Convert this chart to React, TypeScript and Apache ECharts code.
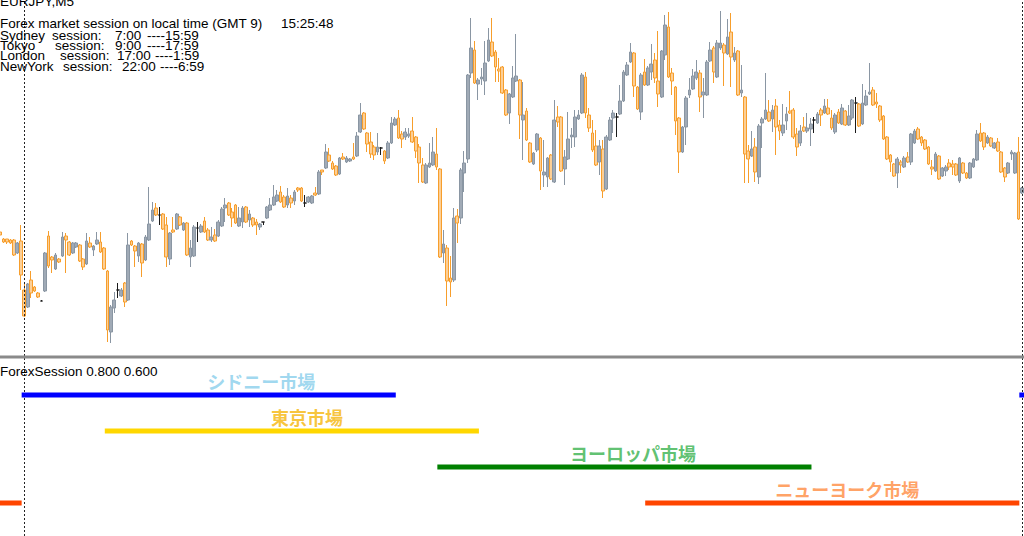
import { useEffect, useRef } from "react";
import * as echarts from "echarts";

// Candle values: height in points above the lower panel divider (EURJPY, M5)
const openP = [125,118,118,117,117,104,116,67,50,77,70,64,56,66,121,100,88,98,101,121,115,104,110,112,98,93,114,107,113,115,109,86,25,49,67,61,74,57,116,111,101,113,97,117,136,149,142,143,132,98,127,128,140,127,134,100,101,129,125,136,127,117,122,121,131,149,154,145,152,131,135,150,137,139,135,130,135,139,147,152,156,165,160,152,159,156,169,169,154,155,154,164,163,187,189,202,194,191,183,200,195,196,200,201,225,244,224,215,210,205,209,206,199,214,232,239,223,220,221,226,220,210,192,174,190,192,203,188,104,109,79,77,141,139,184,198,284,307,273,278,276,296,315,305,288,290,267,244,260,276,277,237,246,214,193,207,219,182,180,202,175,240,240,188,198,220,220,238,244,280,242,224,211,195,208,168,217,239,240,243,256,282,295,304,270,245,285,272,285,297,276,260,302,330,284,270,239,205,230,262,268,279,284,262,262,296,309,280,309,312,303,325,297,306,264,260,206,201,210,180,234,238,245,238,251,232,224,236,246,247,223,214,230,226,228,237,234,247,244,249,239,225,245,233,246,232,239,254,253,233,252,263,267,255,251,241,220,202,193,184,195,190,200,195,214,228,220,217,210,190,186,201,181,186,194,193,193,176,194,184,179,190,197,224,224,214,219,209,215,205,189,184,203,184,205,164];
const closeP = [122,115,115,114,102,114,82,41,73,64,66,60,56,104,91,97,102,95,120,117,102,114,114,96,90,116,110,111,117,105,88,27,50,57,67,67,55,112,112,106,114,94,120,133,147,142,142,128,100,124,125,143,132,134,102,109,130,129,131,125,117,120,116,135,148,152,142,139,134,139,149,135,143,132,132,133,135,150,152,160,162,155,150,161,154,165,167,156,154,160,161,162,185,185,205,196,188,182,199,198,199,198,198,221,242,228,213,203,202,210,209,196,214,234,238,219,218,225,223,215,206,194,175,192,194,205,190,100,113,76,75,139,134,187,194,282,309,274,277,280,294,317,301,290,286,264,242,263,279,281,242,242,217,195,204,223,186,185,199,178,237,235,186,200,218,222,240,242,282,244,229,207,192,211,166,220,237,244,240,256,285,292,305,271,248,282,272,289,293,279,263,306,332,280,276,236,205,230,259,267,281,285,260,265,295,307,285,314,314,304,320,300,304,262,267,203,198,208,185,231,238,247,236,247,230,226,232,243,244,220,210,226,226,229,233,237,243,242,251,243,229,242,234,249,232,241,257,254,231,254,261,265,252,253,237,218,198,195,181,198,192,199,195,223,226,218,214,208,193,188,203,178,189,190,190,190,182,199,184,179,194,198,223,216,210,220,211,214,206,185,180,194,205,204,138,169];
const lowP = [120,114,113,113,101,103,67,40,49,59,65,59,56,65,89,84,87,94,100,84,101,103,109,95,87,92,109,101,112,104,87,15,14,44,59,60,50,56,111,90,95,80,96,116,135,141,132,127,90,92,124,127,131,126,101,90,100,115,124,124,116,115,115,120,130,135,141,130,133,130,129,134,130,130,122,127,132,138,146,151,155,154,149,149,149,152,165,155,150,154,153,161,162,182,188,195,187,181,182,197,194,195,197,200,224,227,205,199,197,202,202,193,198,213,231,218,209,217,219,214,199,174,174,173,189,191,187,99,94,51,60,75,114,133,165,194,279,273,257,272,262,295,300,275,275,263,241,233,259,275,218,197,216,194,192,205,167,170,170,177,174,230,185,172,197,209,210,237,243,239,225,205,191,182,159,167,216,224,220,242,255,281,294,260,247,237,271,271,277,274,250,259,297,279,262,222,184,204,212,259,267,277,245,239,261,295,274,279,307,271,302,270,295,261,260,174,174,200,175,173,209,237,235,225,202,217,221,227,243,218,201,211,225,224,211,224,233,231,243,242,227,223,233,232,231,231,237,224,230,232,251,262,251,249,235,217,197,185,180,169,184,189,194,192,213,217,211,207,192,182,185,177,180,181,187,182,181,174,183,178,178,189,196,215,207,213,210,208,205,184,175,183,197,183,137,163];
const highP = [128,119,118,118,118,115,132,74,74,86,71,65,57,105,126,101,104,99,125,124,116,115,115,113,99,124,120,112,125,125,110,87,52,65,74,69,75,124,117,112,115,114,122,170,155,154,150,144,140,125,140,144,141,135,135,117,132,135,133,140,129,130,128,137,150,159,155,149,153,150,151,151,147,140,138,134,135,151,159,172,167,171,162,169,162,167,170,170,162,161,162,170,187,187,213,209,196,192,200,204,201,199,214,225,254,245,225,225,212,224,210,207,216,240,240,247,226,229,229,240,221,213,199,194,214,220,229,189,127,112,101,149,148,189,206,283,339,316,279,289,316,329,339,307,299,291,268,264,291,323,278,275,249,215,205,224,220,217,200,203,257,251,241,207,245,229,247,247,284,285,249,237,227,217,217,222,240,247,244,272,287,295,314,305,271,284,298,291,313,304,326,307,342,345,289,271,240,231,261,279,288,297,287,279,297,315,311,317,346,314,338,344,310,307,292,261,212,226,219,233,240,284,257,252,258,237,253,250,266,249,229,232,240,244,239,240,245,249,258,258,247,244,248,253,247,252,258,260,254,273,267,294,270,264,252,242,221,203,194,200,197,201,205,224,228,230,221,218,211,197,205,202,190,192,198,197,194,200,195,185,195,199,227,234,225,222,220,215,219,206,190,195,207,205,220,170];

// Day separators (bar index of 07:00 local time)
const daySeparators = [7, 295];

// Sessions (local time GMT+9)
const sessionNames = ["シドニー市場", "東京市場", "ヨーロッパ市場", "ニューヨーク市場"];
const sessionStartHour = [7, 9, 17, 22];
const sessionLengthHours = 9;
const sessionLineColors = ["#0000ff", "#ffd700", "#008000", "#ff4500"];
const sessionLabelColors = ["#87ceeb", "#f5b60a", "#37b24d", "#ff8a3d"];
const sessionLabelAt = [76.2, 89.4, 183.5, 245.3];

const infoTitle = "Forex market session on local time (GMT 9)";
const infoClock = "15:25:48";
const infoRows = [
  ["Sydney", "session:", "7:00", "----15:59"],
  ["Tokyo", "session:", "9:00", "----17:59"],
  ["London", "session:", "17:00", "----1:59"],
  ["NewYork", "session:", "22:00", "----6:59"],
];

const N = openP.length;
const BARS_PER_HOUR = 12;
const DAY_START_HOUR = 7;
const DAY_START_INDEX = daySeparators[0];

function hourToIndex(h: number) {
  return DAY_START_INDEX + (h - DAY_START_HOUR) * BARS_PER_HOUR;
}

const categories: string[] = [];
for (let i = 0; i < N; i++) {
  const m = ((DAY_START_HOUR * 60 + (i - DAY_START_INDEX) * 5) % 1440 + 1440) % 1440;
  categories.push(String(Math.floor(m / 60)).padStart(2, "0") + ":" + String(m % 60).padStart(2, "0"));
}

export default function App() {
  const ref = useRef<HTMLDivElement>(null);
  useEffect(() => {
    if (!ref.current) return;
    const chart = echarts.init(ref.current, undefined, { renderer: "svg" });
    const candleData = openP.map((o, i) => [o, closeP[i], lowP[i], highP[i]]);

    const font = '"Liberation Sans", Arial, sans-serif';
    const fs = 13.5;
    const graphics: any[] = [];
    graphics.push({ type: "rect", shape: { x: 0, y: 355.5, width: 1024, height: 3 }, style: { fill: "#8a8a8a" }, z: 10 });
    graphics.push({ type: "text", x: 0, y: 1, style: { text: "EURJPY,M5", fontSize: fs, fontFamily: font, fill: "#000", verticalAlign: "middle" }, z: 20 });
    graphics.push({ type: "text", x: 0, y: 23.5, style: { text: infoTitle, fontSize: fs, fontFamily: font, fill: "#000", verticalAlign: "middle" }, z: 20 });
    graphics.push({ type: "text", x: 281, y: 23.5, style: { text: infoClock, fontSize: fs, fontFamily: font, fill: "#000", verticalAlign: "middle" }, z: 20 });
    const rowY = [35, 45, 55.5, 66];
    const colX = [
      [0, 52, 115, 147],
      [0, 55, 115, 147],
      [0, 60, 117, 155],
      [0, 63, 122, 160],
    ];
    infoRows.forEach((row, r) => {
      row.forEach((t, c) => {
        graphics.push({ type: "text", x: colX[r][c], y: rowY[r], style: { text: t, fontSize: fs, fontFamily: font, fill: "#000", verticalAlign: "middle" }, z: 20 });
      });
    });
    graphics.push({ type: "text", x: 0, y: 371, style: { text: "ForexSession 0.800 0.600", fontSize: fs, fontFamily: font, fill: "#000", verticalAlign: "middle" }, z: 20 });

    const sessionSeries: any[] = [];
    sessionNames.forEach((name, k) => {
      [-1, 0, 1].forEach((d) => {
        const s = hourToIndex(sessionStartHour[k] + 24 * d);
        const e = s + sessionLengthHours * BARS_PER_HOUR;
        sessionSeries.push({
          type: "line",
          xAxisIndex: 1,
          yAxisIndex: 1,
          data: [[s, k + 1], [e, k + 1]],
          showSymbol: false,
          symbol: "none",
          clip: true,
          lineStyle: { color: sessionLineColors[k], width: 5, cap: "butt" },
          silent: true,
          z: 5,
        });
      });
      sessionSeries.push({
        type: "scatter",
        xAxisIndex: 1,
        yAxisIndex: 1,
        data: [[sessionLabelAt[k], k + 1]],
        symbolSize: 0,
        silent: true,
        label: {
          show: true,
          position: "top",
          distance: 5,
          formatter: name,
          color: sessionLabelColors[k],
          fontSize: 18,
          fontWeight: "bold",
          fontFamily: '"Noto Sans CJK JP", sans-serif',
        },
        z: 6,
      });
    });

    chart.setOption({
      animation: false,
      backgroundColor: "#ffffff",
      graphic: graphics,
      grid: [
        { left: 0, right: 2, top: 0, bottom: 0 },
        { left: 0, right: 0, top: 377, height: 144 },
      ],
      xAxis: [
        { type: "category", data: categories, boundaryGap: false, show: false, gridIndex: 0 },
        { type: "value", min: 0.75, max: 296.35, show: false, gridIndex: 1 },
      ],
      yAxis: [
        { type: "value", min: -179, max: 357, show: false, gridIndex: 0, scale: true },
        { type: "value", min: 0.5, max: 4.5, inverse: true, show: false, gridIndex: 1 },
      ],
      series: [
        {
          type: "candlestick",
          xAxisIndex: 0,
          yAxisIndex: 0,
          data: candleData,
          barWidth: 3.2,
          barMinWidth: 3,
          silent: true,
          itemStyle: {
            color: "#a0aab6",
            borderColor: "#8a96a3",
            color0: "#fccf96",
            borderColor0: "#f79e2c",
            borderColorDoji: "#1a1a1a",
            borderWidth: 1,
          },
          markLine: {
            silent: true,
            symbol: ["none", "none"],
            label: { show: false },
            lineStyle: { color: "#222", type: [2, 2], width: 1 },
            data: daySeparators.map((i) => ({ xAxis: i })),
          },
        },
        ...sessionSeries,
      ],
    });
    return () => chart.dispose();
  }, []);
  return <div ref={ref} style={{ position: "fixed", left: 0, top: 0, width: 1024, height: 536 }} />;
}
